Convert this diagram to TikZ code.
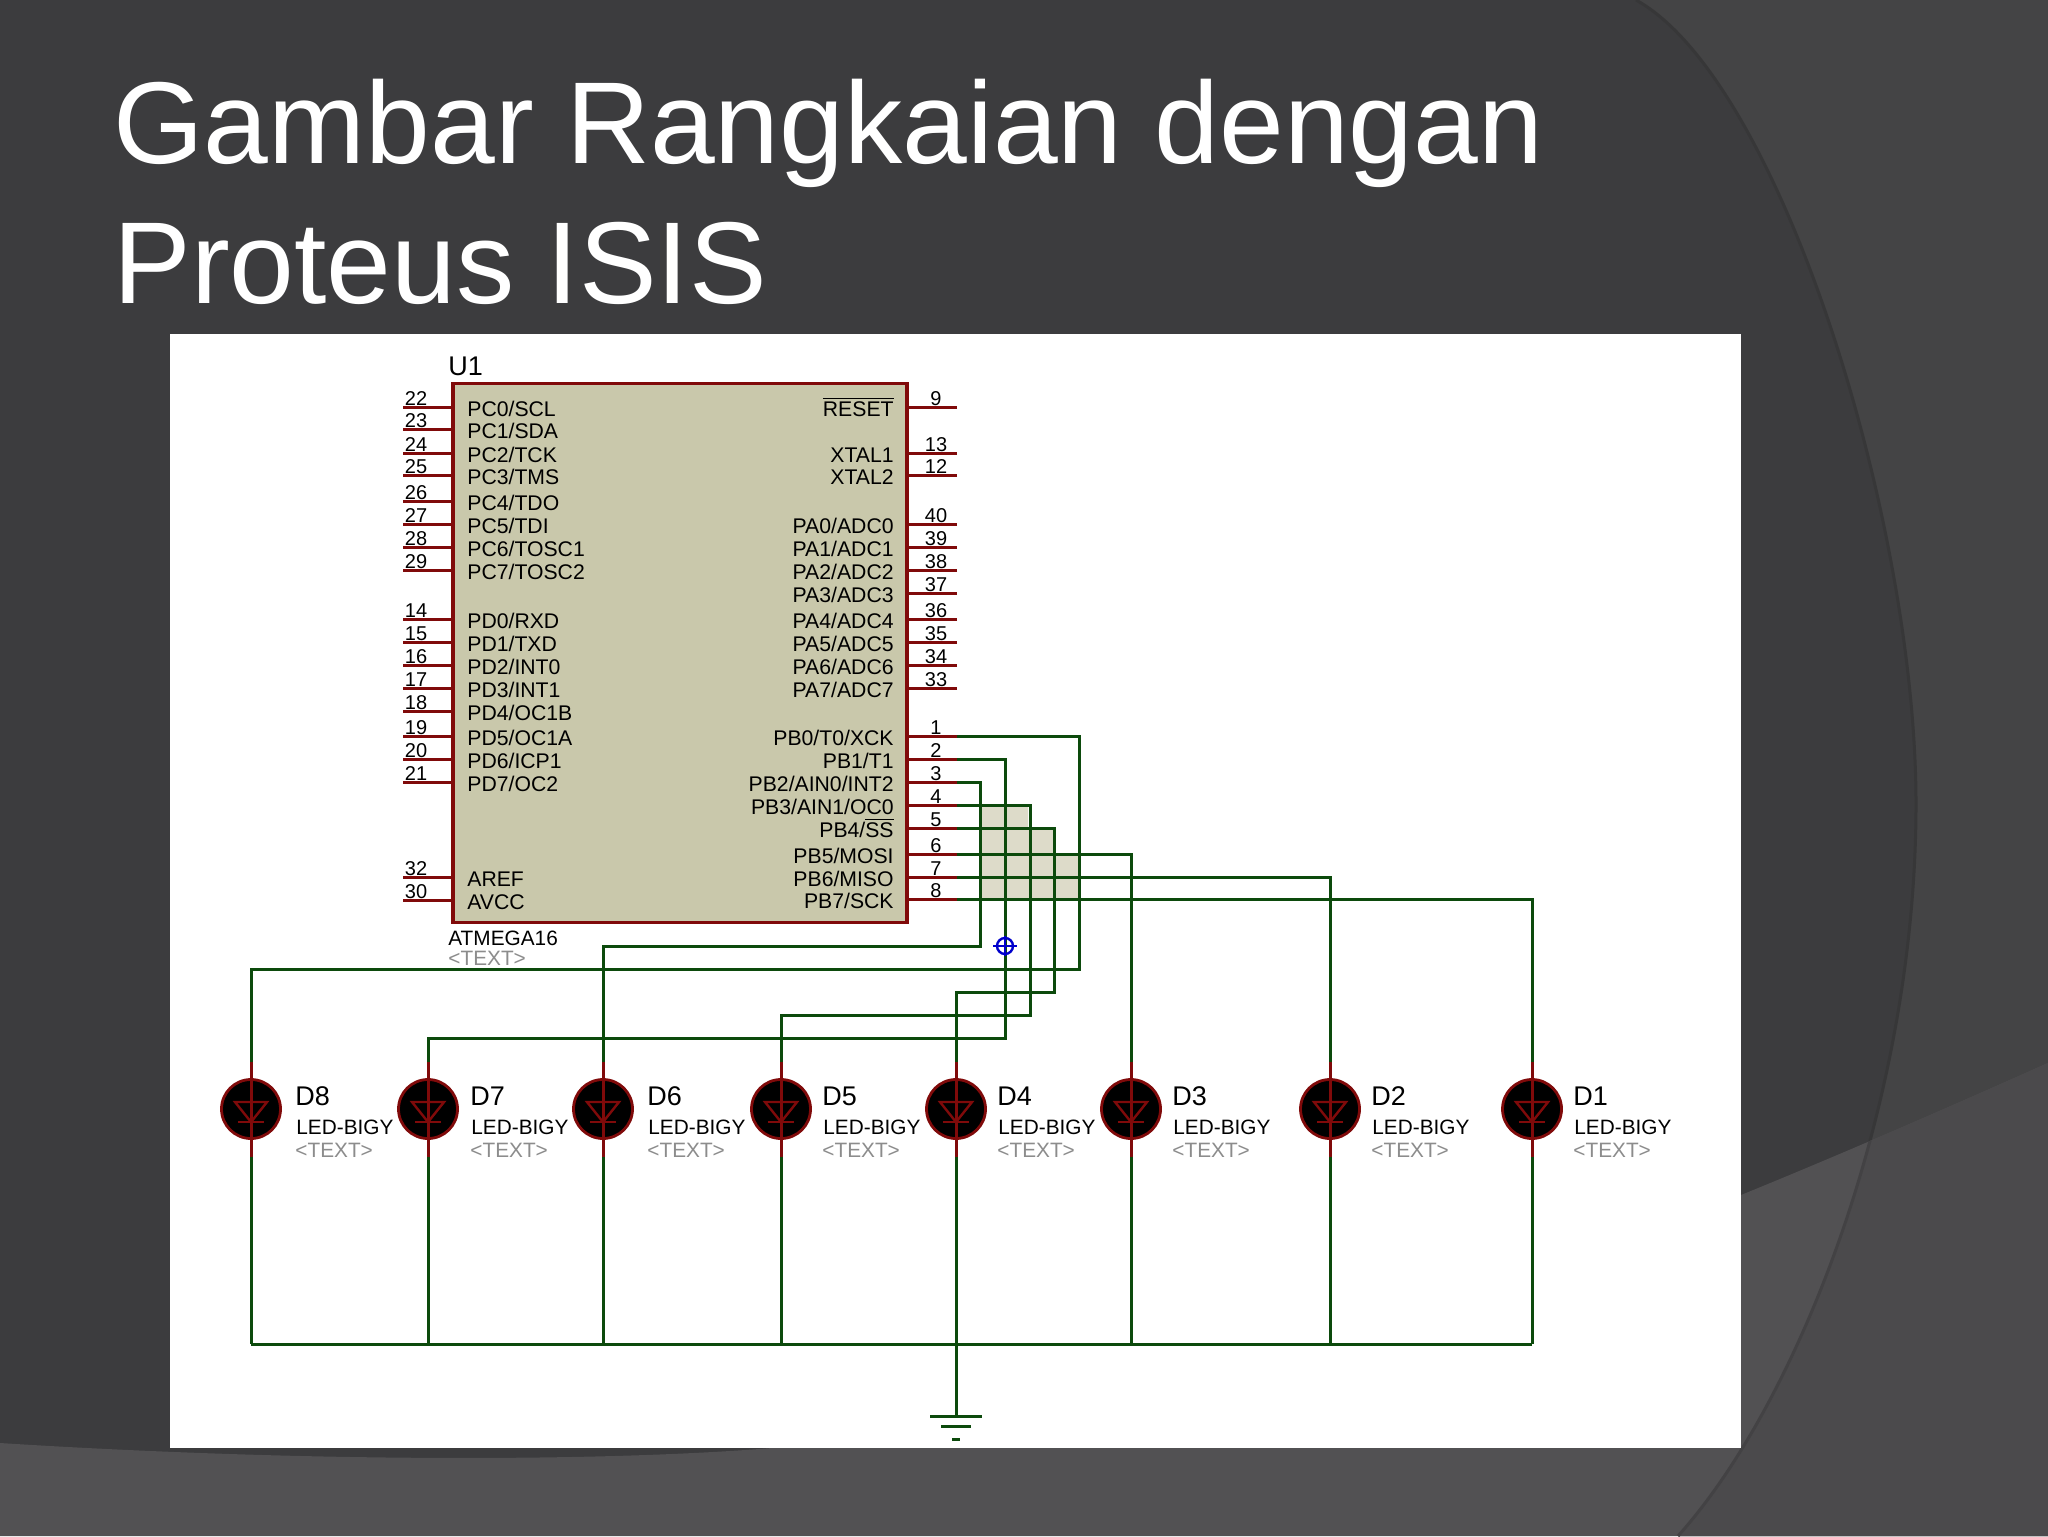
\documentclass[tikz,border=0pt]{standalone}
\usepackage{fontspec}
\setmainfont{Liberation Sans}
\definecolor{slide}{HTML}{3C3C3E}
\definecolor{slideright}{HTML}{444445}
\definecolor{slideband}{HTML}{525153}
\definecolor{slidebandright}{HTML}{4B4A4C}
\definecolor{slideedge}{HTML}{373738}
\definecolor{chipfill}{HTML}{C9C8AB}
\definecolor{patchfill}{HTML}{DDDBC9}
\definecolor{pinred}{HTML}{800A0A}
\definecolor{wiregreen}{HTML}{0C4A0C}
\newcommand{\ovl}[1]{$\overline{\mbox{#1}}$}
\newcommand{\edgepath}{(1636,0) .. controls (1780,80) and (1916,520) .. (1916,804) .. controls (1916,1100) and (1800,1400) .. (1678,1536)}
\newcommand{\bandpath}{(0,1443) .. controls (300,1462) and (600,1462) .. (772,1448) .. controls (1200,1420) and (1600,1263) .. (2048,1063) -- (2048,1536) -- (0,1536) -- cycle}
\tikzset{
    wire/.style={wiregreen,line width=1.5pt},
    pinline/.style={pinred,line width=1.5pt},
    pinnum/.style={anchor=base,inner sep=0pt,font=\fontsize{10}{10}\selectfont},
    pinleft/.style={anchor=base west,inner sep=0pt,font=\fontsize{10.6}{10.6}\selectfont},
    pinright/.style={anchor=base east,inner sep=0pt,font=\fontsize{10.6}{10.6}\selectfont},
    part/.style={anchor=base west,inner sep=0pt,font=\fontsize{10.4}{10.4}\selectfont},
    parttext/.style={part,text=black!45},
    refname/.style={anchor=base west,inner sep=0pt,font=\fontsize{13.5}{13.5}\selectfont},
    ledbody/.style={circle,draw=pinred,fill=black,line width=1.4pt,minimum size=29.5pt,inner sep=0pt},
    titleline/.style={anchor=base west,inner sep=0pt,text=white,font=\fontsize{58.2}{58.2}\selectfont}
}
\begin{document}
\begin{tikzpicture}[x=0.5pt,y=-0.5pt]
        \useasboundingbox (0,0) rectangle (2048,1536);
        \fill[slide] (0,0) rectangle (2048,1536);
        \fill[slideright] \edgepath -- (2048,1536) -- (2048,0) -- cycle;
        \draw[slideedge,line width=1.5pt] \edgepath;
        \fill[slideband] \bandpath;
        \begin{scope}
            \clip \bandpath;
            \fill[slidebandright] \edgepath -- (2048,1536) -- (2048,0) -- cycle;
            \draw[slide!70!slideband,line width=1.5pt] \edgepath;
        \end{scope}
        \fill[white] (170,334) rectangle (1741,1448);
        \node[titleline] (title1) at (113,163) {Gambar Rangkaian dengan};
        \node[titleline] (title2) at (113,303) {Proteus ISIS};

        \fill[patchfill] (982,807) -- (1028,807) -- (1028,828) -- (1053,828) -- (1053,854) -- (1078,854) -- (1078,899) -- (982,899) -- cycle;

        \node[draw=pinred,fill=chipfill,line width=1.7pt,minimum width=227pt,minimum height=269.5pt,inner sep=0pt] (chip) at (680,653) {};
        \node[refname] (u1) at (448,375) {U1};
        \node[part] (chipname) at (448,945) {ATMEGA16};
        \node[parttext] (chiptext) at (448,965) {<TEXT>};

        \foreach \num/\yy/\lbl in {22/407/{PC0/SCL},23/429/{PC1/SDA},24/453/{PC2/TCK},25/475/{PC3/TMS},26/501/{PC4/TDO},27/524/{PC5/TDI},28/547/{PC6/TOSC1},29/570/{PC7/TOSC2},14/619/{PD0/RXD},15/642/{PD1/TXD},16/665/{PD2/INT0},17/688/{PD3/INT1},18/711/{PD4/OC1B},19/736/{PD5/OC1A},20/759/{PD6/ICP1},21/782/{PD7/OC2},32/877/{AREF},30/900/{AVCC}}{
            \coordinate (p\num) at (403,\yy);
            \draw[pinline] (p\num) -- (p\num -| chip.west);
            \node[pinnum] (n\num) at (416,\yy-2) {\num};
            \node[pinleft] (l\num) at (467,\yy+9) {\lbl};
        }
        \foreach \num/\yy/\lbl in {9/407/{\ovl{RESET}},13/453/{XTAL1},12/475/{XTAL2},40/524/{PA0/ADC0},39/547/{PA1/ADC1},38/570/{PA2/ADC2},37/593/{PA3/ADC3},36/619/{PA4/ADC4},35/642/{PA5/ADC5},34/665/{PA6/ADC6},33/688/{PA7/ADC7},1/736/{PB0/T0/XCK},2/759/{PB1/T1},3/782/{PB2/AIN0/INT2},4/805/{PB3/AIN1/OC0},5/828/{PB4/\ovl{SS}},6/854/{PB5/MOSI},7/877/{PB6/MISO},8/899/{PB7/SCK}}{
            \coordinate (p\num) at (957,\yy);
            \draw[pinline] (p\num) -- (p\num -| chip.east);
            \node[pinnum] (n\num) at (936,\yy-2) {\num};
            \node[pinright] (l\num) at (894,\yy+9) {\lbl};
        }

        \foreach \idx/\xx/\tx in {8/251/295,7/428/470,6/603/647,5/781/822,4/956/997,3/1131/1172,2/1330/1371,1/1532/1573}{
            \coordinate (top\idx) at (\xx,1062);
            \coordinate (bot\idx) at (\xx,1157);
            \coordinate (bus\idx) at (\xx,1344);
            \node[ledbody] (led\idx) at (\xx,1109) {};
            \draw[pinline] (top\idx) -- (bot\idx);
            \draw[pinred,line width=1.2pt] (\xx-16,1102) -- (\xx+16,1102) -- (\xx,1122) -- cycle;
            \draw[pinred,line width=1.2pt] (\xx-13,1122) -- (\xx+13,1122);
            \node[refname] (d\idx) at (\tx,1105) {D\idx};
            \node[part] (t\idx) at (\tx+1,1134) {LED-BIGY};
            \node[parttext] (x\idx) at (\tx,1157) {<TEXT>};
            \draw[wire] (bot\idx) -- (bus\idx);
        }

        \draw[wire] (p1) -- (1079,736) -- (1079,969) -- (251,969) -- (top8);
        \draw[wire] (p2) -- (1005,759) -- (1005,1038) -- (428,1038) -- (top7);
        \draw[wire] (p3) -- (980,782) -- (980,946) -- (603,946) -- (top6);
        \draw[wire] (p4) -- (1030,805) -- (1030,1015) -- (781,1015) -- (top5);
        \draw[wire] (p5) -- (1054,828) -- (1054,992) -- (956,992) -- (top4);
        \draw[wire] (p6) -| (top3);
        \draw[wire] (p7) -| (top2);
        \draw[wire] (p8) -| (top1);
        \draw[wire] (bus8) -- (bus1);

        \coordinate (gnd) at (956,1416);
        \draw[wire] (bus4) -- (gnd);
        \draw[wire] (930,1416) -- (982,1416);
        \draw[wire] (941,1426) -- (971,1426);
        \draw[wire] (952,1439) -- (960,1439);

        \draw[blue!80!black,line width=1.2pt] (1005,946) circle[radius=8];
        \draw[blue!80!black,line width=1.2pt] (993,946) -- (1017,946);
        \draw[blue!80!black,line width=1.2pt] (1005,936) -- (1005,956);
    \end{tikzpicture}
\end{document}
